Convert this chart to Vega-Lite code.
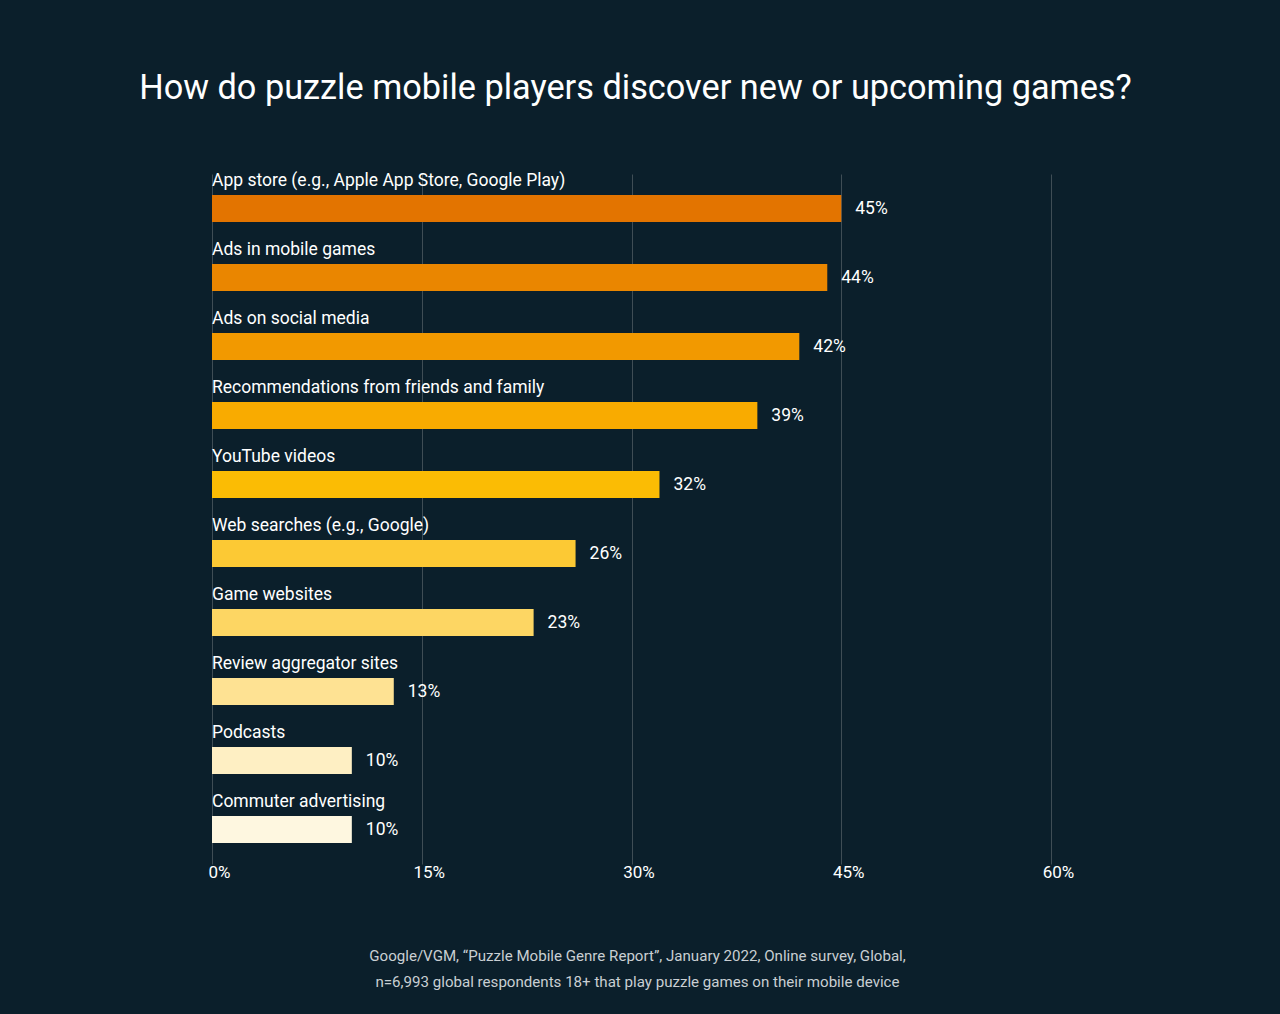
{
  "$schema": "https://vega.github.io/schema/vega-lite/v6.json",
  "width": 839,
  "height": 690,
  "autosize": {"type": "none"},
  "padding": {"left": 212, "top": 174, "right": 229, "bottom": 150},
  "background": "#0b1f2b",
  "title": {
    "text": "How do puzzle mobile players discover new or upcoming games?",
    "fontSize": 34.3,
    "font": "Roboto",
    "fontWeight": "normal",
    "color": "#ffffff",
    "anchor": "middle",
    "dx": 4,
    "offset": 65
  },
  "data": {
    "values": [
      {"category": "App store (e.g., Apple App Store, Google Play)", "value": 0.45},
      {"category": "Ads in mobile games", "value": 0.44},
      {"category": "Ads on social media", "value": 0.42},
      {"category": "Recommendations from friends and family", "value": 0.39},
      {"category": "YouTube videos", "value": 0.32},
      {"category": "Web searches (e.g., Google)", "value": 0.26},
      {"category": "Game websites", "value": 0.23},
      {"category": "Review aggregator sites", "value": 0.13},
      {"category": "Podcasts", "value": 0.10},
      {"category": "Commuter advertising", "value": 0.10}
    ]
  },
  "encoding": {
    "y": {"field": "category", "type": "nominal", "sort": null, "axis": null, "scale": {"paddingInner": 0, "paddingOuter": 0}}
  },
  "layer": [
    {
      "mark": {"type": "bar", "size": 27},
      "encoding": {
        "x": {
          "field": "value",
          "type": "quantitative",
          "scale": {"domain": [0, 0.6], "nice": false},
          "axis": {
            "values": [0, 0.15, 0.3, 0.45, 0.6],
            "format": ".0%",
            "grid": true,
            "gridColor": "#3f4d55",
            "gridWidth": 1,
            "domain": false,
            "ticks": false,
            "labelColor": "#ffffff",
            "labelFont": "Roboto",
            "labelFontSize": 17,
            "labelPadding": 0,
            "labelFlush": false,
            "labelAlign": "center",
            "labelOffset": 7,
            "title": ["Google/VGM, “Puzzle Mobile Genre Report”, January 2022, Online survey, Global,", "n=6,993 global respondents 18+ that play puzzle games on their mobile device"],
            "titleColor": "#c9cfd3",
            "titleFont": "Roboto",
            "titleFontSize": 15.1,
            "titleFontWeight": "normal",
            "titleLineHeight": 26,
            "titlePadding": 68,
            "titleX": 425
          }
        },
        "color": {
          "field": "category",
          "type": "nominal",
          "sort": null,
          "legend": null,
          "scale": {"range": ["#e37400", "#ea8600", "#f29900", "#f9ab00", "#fbbc04", "#fcc934", "#fdd663", "#fee293", "#feefc3", "#fef7e0"]}
        }
      }
    },
    {
      "mark": {"type": "text", "align": "left", "baseline": "middle", "dy": -28, "font": "Roboto", "fontSize": 17.5, "color": "#ffffff"},
      "encoding": {
        "x": {"datum": 0, "type": "quantitative"},
        "text": {"field": "category", "type": "nominal"}
      }
    },
    {
      "mark": {"type": "text", "align": "left", "baseline": "middle", "dx": 14, "font": "Roboto", "fontSize": 17.5, "color": "#ffffff"},
      "encoding": {
        "x": {"field": "value", "type": "quantitative"},
        "text": {"field": "value", "type": "quantitative", "format": ".0%"}
      }
    }
  ],
  "config": {
    "view": {"stroke": null}
  }
}
